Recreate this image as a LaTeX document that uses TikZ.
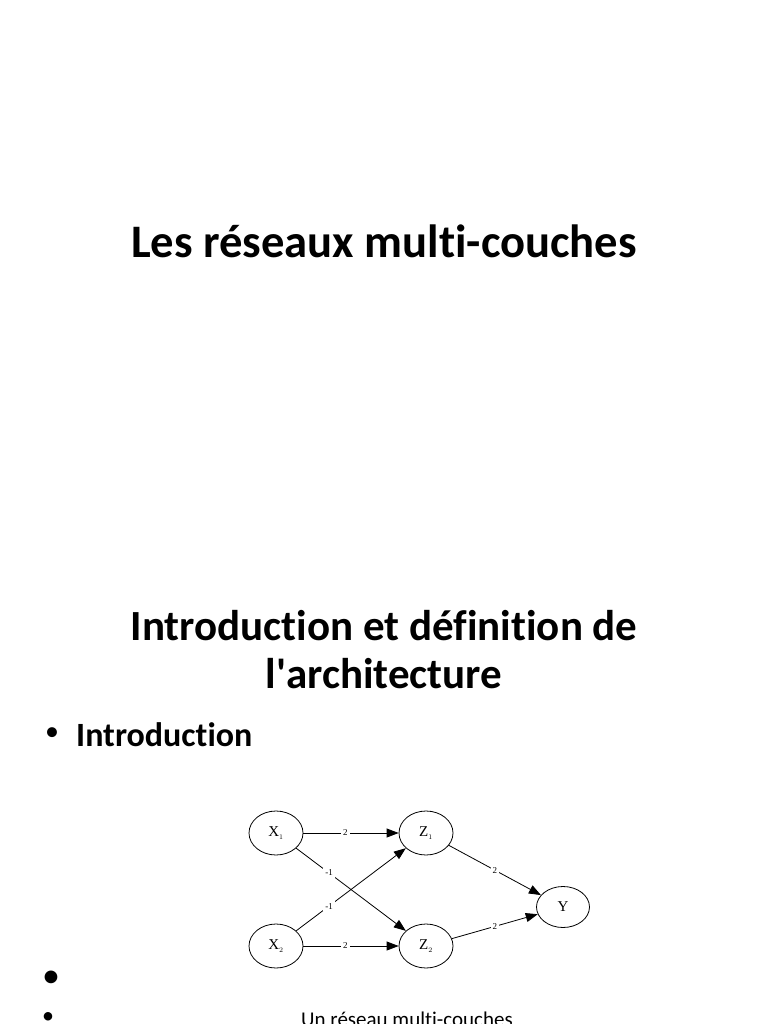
\documentclass[tikz,border=0pt]{standalone}
\usepackage{fontspec}
\setmainfont{Carlito}[Ligatures={NoCommon}]
\newfontfamily\timesf{Liberation Serif}
\usetikzlibrary{arrows.meta,shapes.geometric}
\begin{document}
\begin{tikzpicture}[x=1pt,y=-1pt,
  neuron/.style={draw, ellipse, minimum width=54pt, minimum height=44pt, inner sep=0pt,
    font=\timesf\fontsize{15}{15}\selectfont, line width=0.8pt},
  link/.style={-{Triangle[length=12pt,width=9pt]}, line width=0.8pt},
  wt/.style={fill=white, inner sep=2pt, font=\timesf\fontsize{9}{9}\selectfont},
  bigtitle/.style={font=\bfseries\fontsize{46.6}{48}\selectfont, anchor=base},
  bul/.style={inner sep=0pt}
]
\useasboundingbox (0,0) rectangle (768,1024);

\node[bigtitle] (t1) at (384,257) {Les réseaux multi-couches};
\node[bigtitle, font=\bfseries\fontsize{43}{48}\selectfont] (t2a) at (384,640) {Introduction et définition de};
\node[bigtitle, font=\bfseries\fontsize{43}{48}\selectfont] (t2b) at (384,688) {l\textquotesingle architecture};

\node[bul, font=\fontsize{28}{28}\selectfont] (b1) at (52,734) {•};
\node[anchor=base west, inner sep=0pt, font=\bfseries\fontsize{34}{34}\selectfont] (intro) at (76,746) {Introduction};

\node[neuron] (x1) at (276,833) {X$_{\scriptscriptstyle 1}$};
\node[neuron] (x2) at (276,946) {X$_{\scriptscriptstyle 2}$};
\node[neuron] (z1) at (426,833) {Z$_{\scriptscriptstyle 1}$};
\node[neuron] (z2) at (426,946) {Z$_{\scriptscriptstyle 2}$};
\node[neuron, minimum width=53pt, minimum height=41pt] (y) at (563,907) {Y};

\draw[link] (x1) -- node[wt, pos=0.44] {2} (z1);
\draw[link] (x2) -- node[wt, pos=0.44] {2} (z2);
\draw[link] (x1) -- node[wt, pos=0.3] {-1} (z2);
\draw[link] (x2) -- node[wt, pos=0.3] {-1} (z1);
\draw[link] (z1) -- node[wt, pos=0.5] {2} (y);
\draw[link] (z2) -- node[wt, pos=0.5] {2} (y);

\node[bul, font=\fontsize{36}{36}\selectfont] (b2) at (51,979) {•};
\node[bul, font=\fontsize{24}{24}\selectfont] (b3) at (48,1018) {•};
\node[anchor=base, inner sep=0pt, font=\fontsize{21}{21}\selectfont] (cap) at (407,1026) {Un réseau multi-couches};
\end{tikzpicture}
\end{document}
